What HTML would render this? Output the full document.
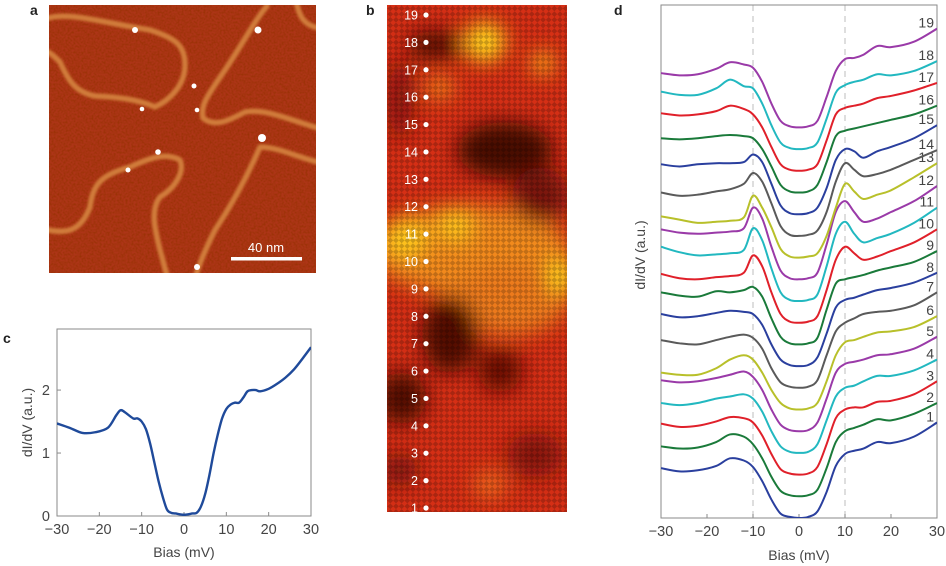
<!DOCTYPE html>
<html><head><meta charset="utf-8">
<style>
html,body{margin:0;padding:0;background:#fff;}
svg{display:block;font-family:"Liberation Sans",sans-serif;}
</style></head>
<body>
<svg id="fig" width="946" height="566" viewBox="0 0 946 566" xmlns="http://www.w3.org/2000/svg">
<defs>
  <filter id="noise" x="0" y="0" width="1" height="1">
    <feTurbulence type="fractalNoise" baseFrequency="0.5" numOctaves="2" seed="3" result="t"/>
    <feColorMatrix type="matrix" values="0 0 0 0 0.3  0 0 0 0 0.03  0 0 0 0 0  0 0 0 1.6 -0.55" />
  </filter>
  <filter id="blurA"><feGaussianBlur stdDeviation="1.2"/></filter>
  <filter id="blurB"><feGaussianBlur stdDeviation="10"/></filter>
  <clipPath id="clipA"><rect x="49" y="5" width="267" height="268"/></clipPath>
  <clipPath id="clipB"><rect x="387" y="5" width="180" height="507"/></clipPath>
  <clipPath id="clipC"><rect x="57" y="329" width="254" height="187"/></clipPath>
  <clipPath id="clipD"><rect x="661" y="5" width="276" height="513"/></clipPath>
  <pattern id="checker" width="8" height="8" patternUnits="userSpaceOnUse" patternTransform="rotate(45)">
    <rect width="4" height="4" fill="#000" opacity="0.2"/><rect x="4" y="4" width="4" height="4" fill="#000" opacity="0.2"/>
  </pattern>
</defs>

<text x="30" y="15" font-size="14" font-weight="bold" fill="#222">a</text>
<text x="366" y="15" font-size="14" font-weight="bold" fill="#222">b</text>
<text x="3" y="343" font-size="14" font-weight="bold" fill="#222">c</text>
<text x="614" y="15" font-size="14" font-weight="bold" fill="#222">d</text>

<g id="panelA" clip-path="url(#clipA)">
  <rect x="49" y="5" width="267" height="268" fill="#ad3517"/>
  <rect x="49" y="5" width="267" height="268" filter="url(#noise)"/>
  <g fill="none" stroke="#d5843f" stroke-width="5.5" stroke-linejoin="round" stroke-linecap="round" filter="url(#blurA)" opacity="0.9">
    <path d="M48,18 C70,12 100,22 150,30 C175,38 185,45 185,65 C185,85 170,100 155,107 C140,100 120,97 95,96 C75,92 68,80 60,62 C55,57 50,53 48,52"/>
    <path d="M267,6 C255,20 245,40 225,70 C208,95 200,105 203,118 C215,128 230,120 245,112 C265,108 290,120 318,128"/>
    <path d="M297,5 C300,18 305,25 318,28"/>
    <path d="M48,230 C65,233 80,233 90,207 C93,185 100,175 130,167 C150,158 165,152 180,160 C185,172 175,188 160,197 C150,210 155,230 160,250 C163,260 165,270 167,275"/>
    <path d="M260,147 C250,170 235,200 215,230 C205,250 200,262 196,275"/>
    <path d="M262,147 C280,148 300,158 318,162"/>
  </g>
  <g fill="#fff">
    <circle cx="135" cy="30" r="3"/>
    <circle cx="258" cy="30" r="3.5"/>
    <circle cx="194" cy="86" r="2.5"/>
    <circle cx="142" cy="109" r="2.3"/>
    <circle cx="197" cy="110" r="2.3"/>
    <circle cx="262" cy="138" r="4"/>
    <circle cx="158" cy="152" r="2.8"/>
    <circle cx="128" cy="170" r="2.5"/>
    <circle cx="197" cy="267" r="3"/>
  </g>
  <text x="266" y="252" font-size="13" fill="#fff" text-anchor="middle">40 nm</text>
  <rect x="231" y="257" width="71" height="3.5" fill="#fff"/>
</g>

<g id="panelB" clip-path="url(#clipB)">
  <rect x="387" y="5" width="180" height="507" fill="#d52f15"/>
  <g filter="url(#blurB)">
    <ellipse cx="470" cy="250" rx="100" ry="45" fill="#f28a1a"/>
    <ellipse cx="510" cy="300" rx="60" ry="35" fill="#ec7a1a"/>
    <ellipse cx="485" cy="42" rx="20" ry="20" fill="#ffd21a"/>
    <ellipse cx="543" cy="63" rx="12" ry="12" fill="#f9a51c"/>
    <ellipse cx="405" cy="237" rx="22" ry="20" fill="#ffc81a"/>
    <ellipse cx="455" cy="225" rx="16" ry="16" fill="#ffc81a"/>
    <ellipse cx="562" cy="276" rx="14" ry="18" fill="#ffd01a"/>
    <ellipse cx="440" cy="88" rx="14" ry="12" fill="#f0801a"/>
    <ellipse cx="435" cy="45" rx="28" ry="14" fill="#5a0a05"/>
    <ellipse cx="400" cy="100" rx="12" ry="40" fill="#8a1508"/>
    <ellipse cx="505" cy="150" rx="48" ry="28" fill="#4a0704"/>
    <ellipse cx="540" cy="195" rx="28" ry="28" fill="#7a1207"/>
    <ellipse cx="450" cy="335" rx="28" ry="38" fill="#520905"/>
    <ellipse cx="500" cy="370" rx="22" ry="22" fill="#6a0e06"/>
    <ellipse cx="402" cy="398" rx="24" ry="26" fill="#520905"/>
    <ellipse cx="400" cy="470" rx="18" ry="14" fill="#7a1207"/>
    <ellipse cx="535" cy="455" rx="28" ry="22" fill="#8a1508"/>
    <ellipse cx="490" cy="485" rx="16" ry="14" fill="#f06a1a"/>
  </g>
  <rect x="387" y="5" width="180" height="507" fill="url(#checker)"/>
  <g id="bLabels"></g>
</g>

<g id="panelC"></g>
<g id="panelD"></g>
</svg>

<script>
// ---------- Panel c data ----------
const cBias = [-30,-27,-24,-21,-18,-16,-15,-14,-12,-11,-10,-9,-8,-7,-6,-5,-4,-3,-2,0,2,3,4,5,6,7,8,9,10,11,12,13,14,15,16,17,18,20,22,24,26,28,30];
const cValues = [1.47,1.4,1.32,1.33,1.4,1.6,1.68,1.65,1.55,1.55,1.5,1.38,1.15,0.85,0.55,0.3,0.1,0.05,0.04,0.02,0.04,0.05,0.15,0.35,0.65,1.0,1.3,1.55,1.7,1.77,1.8,1.8,1.88,1.98,2.0,2.0,1.98,2.02,2.1,2.2,2.33,2.5,2.68];
const cXTicks = [-30,-20,-10,0,10,20,30];
const cYTicks = [0,1,2];

// ---------- Panel d data ----------
const dBias = [-30,-26,-22,-18,-15,-12,-10,-8,-6,-4,-2,0,2,4,6,8,10,12,14,17,20,25,30];
const s1 = [2.3,2.15,2.2,2.4,2.75,2.65,2.35,1.7,0.85,0.2,0.05,0,0.05,0.3,1.2,2.4,2.95,3.1,3.2,3.5,3.45,3.75,4.4];
const s2 = [2.3,2.2,2.25,2.5,2.85,2.75,2.4,1.75,0.9,0.25,0.05,0,0.05,0.3,1.3,2.5,3.0,3.15,3.3,3.55,3.5,3.8,4.3];
const s3 = [2.35,2.2,2.25,2.45,2.65,2.6,2.4,1.8,0.95,0.25,0.05,0,0.05,0.35,1.4,2.6,3.0,3.1,3.1,3.35,3.4,3.7,4.3];
const s4 = [2.3,2.2,2.3,2.5,2.6,2.7,2.5,1.9,1.0,0.3,0.05,0,0.05,0.4,1.5,2.6,3.0,3.1,3.3,3.55,3.55,3.8,4.3];
const s5 = [2.35,2.25,2.3,2.45,2.6,2.75,2.5,1.9,1.0,0.3,0.05,0,0.05,0.4,1.5,2.7,3.1,3.2,3.3,3.5,3.55,3.8,4.35];
const s6 = [1.7,1.6,1.6,1.9,2.3,2.5,2.3,1.7,0.9,0.3,0.05,0,0.05,0.3,1.3,2.5,3.1,3.2,3.35,3.55,3.6,3.8,4.3];
const s7 = [2.2,2.05,2.0,2.2,2.35,2.45,2.3,1.8,0.9,0.25,0.05,0,0.05,0.35,1.5,2.6,3.0,3.2,3.4,3.5,3.55,3.8,4.4];
const s8 = [2.4,2.25,2.3,2.45,2.55,2.5,2.4,1.9,1.0,0.3,0.05,0,0.05,0.4,1.5,2.7,3.05,3.15,3.3,3.5,3.6,3.85,4.3];
const s9 = [2.4,2.25,2.2,2.45,2.4,2.5,2.65,2.2,1.2,0.35,0.05,0,0.05,0.3,1.6,2.8,3.0,3.1,3.2,3.4,3.55,3.8,4.3];
const s10 = [2.25,2.05,2.0,2.1,2.15,2.3,3.1,2.6,1.4,0.4,0.05,0,0.05,0.3,1.5,2.9,3.5,3.2,2.9,3.05,3.3,3.7,4.3];
const s11 = [2.5,2.25,2.1,2.15,2.2,2.35,3.35,2.8,1.5,0.4,0.05,0,0.05,0.3,1.6,3.1,3.65,3.1,2.7,2.9,3.1,3.6,4.3];
const s12 = [2.3,2.15,2.1,2.15,2.2,2.35,3.3,2.8,1.5,0.4,0.05,0,0.05,0.3,1.6,3.1,3.6,3.1,2.65,2.8,3.1,3.6,4.3];
const s13 = [1.9,1.75,1.6,1.65,1.7,1.85,2.85,2.3,1.4,0.4,0.05,0,0.05,0.2,1.0,2.3,3.4,3.05,2.7,2.9,3.1,3.7,4.35];
const s14 = [2.0,1.85,1.9,2.05,2.15,2.4,2.9,2.5,1.5,0.45,0.05,0,0.05,0.25,1.1,2.5,3.35,3.05,2.75,2.85,3.05,3.5,3.95];
const s15 = [2.3,2.2,2.3,2.35,2.35,2.4,2.75,2.4,1.4,0.4,0.05,0,0.05,0.3,1.2,2.5,3.0,2.9,2.6,2.9,3.1,3.5,4.1];
const s16 = [2.5,2.45,2.5,2.6,2.65,2.6,2.5,2.0,1.2,0.35,0.05,0,0.05,0.35,1.4,2.6,2.85,2.95,3.05,3.2,3.35,3.6,4.0];
const s17 = [2.65,2.55,2.6,2.75,3.0,2.85,2.6,2.0,1.1,0.3,0.05,0,0.05,0.3,1.4,2.6,2.9,3.0,3.1,3.35,3.45,3.7,4.05];
const s18 = [2.65,2.5,2.5,2.8,3.2,2.9,2.8,2.1,1.1,0.3,0.05,0,0.05,0.3,1.4,2.6,2.95,3.1,3.2,3.45,3.4,3.6,4.05];
const s19 = [2.5,2.4,2.45,2.7,3.0,2.9,2.75,2.1,1.1,0.3,0.05,0,0.05,0.3,1.4,2.6,3.15,3.2,3.35,3.75,3.7,3.95,4.55];
const dSeries = [s1,s2,s3,s4,s5,s6,s7,s8,s9,s10,s11,s12,s13,s14,s15,s16,s17,s18,s19];
const dLabels = ["1","2","3","4","5","6","7","8","9","10","11","12","13","14","15","16","17","18","19"];
const dColors = ["#2a3f9e","#1a7a3a","#e0202a","#22b8c0","#9a3aa8","#b8c02a","#5a5a5a"];
const dOffsetStep = 1;
const dXTicks = [-30,-20,-10,0,10,20,30];
const dDashed = [-10,10];
const bPoints = ["1","2","3","4","5","6","7","8","9","10","11","12","13","14","15","16","17","18","19"];

const NS = "http://www.w3.org/2000/svg";
function mk(tag, attrs, parent){ const e=document.createElementNS(NS,tag); for(const k in attrs) e.setAttribute(k,attrs[k]); if(parent) parent.appendChild(e); return e; }
function smoothPath(pts){
  let d = "M"+pts[0][0].toFixed(2)+","+pts[0][1].toFixed(2);
  for(let i=0;i<pts.length-1;i++){
    const p0=pts[Math.max(0,i-1)],p1=pts[i],p2=pts[i+1],p3=pts[Math.min(pts.length-1,i+2)];
    const c1x=p1[0]+(p2[0]-p0[0])/6,c1y=p1[1]+(p2[1]-p0[1])/6;
    const c2x=p2[0]-(p3[0]-p1[0])/6,c2y=p2[1]-(p3[1]-p1[1])/6;
    d+=" C"+c1x.toFixed(2)+","+c1y.toFixed(2)+" "+c2x.toFixed(2)+","+c2y.toFixed(2)+" "+p2[0].toFixed(2)+","+p2[1].toFixed(2);
  }
  return d;
}

(function(){
  const g=document.getElementById('bLabels');
  const y1=508, y19=15;
  bPoints.forEach((lab,i)=>{
    const y = y1 + (y19-y1)*i/(bPoints.length-1);
    const t=mk('text',{x:418,y:y+4.5,'font-size':12.5,fill:'#fff','text-anchor':'end'},g);
    
    
    t.textContent=lab;
    const c=mk('circle',{cx:426,cy:y,r:2.6,fill:'#fff'},g);
    
    
  });
})();

(function(){
  const g=document.getElementById('panelC');
  const L=57,R=311,T=329,B=516, ymax=2.97;
  const x=v=>L+(v+30)/60*(R-L), y=v=>B-v/ymax*(B-T);
  const fr=mk('rect',{x:L,y:T,width:R-L,height:B-T,fill:'none',stroke:'#8a8a8a','stroke-width':1},g);
   
  cXTicks.forEach(v=>{
    const tk=mk('line',{x1:x(v),x2:x(v),y1:B,y2:B-4,stroke:'#8a8a8a'},g);
     
    const t=mk('text',{x:x(v),y:B+18,'font-size':14.5,fill:'#444','text-anchor':'middle'},g);
     
    t.textContent=(v<0?'\u2212'+(-v):String(v));
  });
  cYTicks.forEach(v=>{
    const tk=mk('line',{x1:L,x2:L+4,y1:y(v),y2:y(v),stroke:'#8a8a8a'},g);
     
    const t=mk('text',{x:L-7,y:y(v)+5,'font-size':14.5,fill:'#444','text-anchor':'end'},g);
     
    t.textContent=String(v);
  });
  const xt=mk('text',{x:(L+R)/2,y:557,'font-size':14,fill:'#444','text-anchor':'middle'},g);
   
  xt.textContent='Bias (mV)';
  const yt=mk('text',{x:0,y:0,'font-size':14,fill:'#444','text-anchor':'middle',transform:'translate(32,'+((T+B)/2)+') rotate(-90)'},g);
   
  yt.textContent='dI/dV (a.u.)';
  const pts=cBias.map((b,i)=>[x(b),y(cValues[i])]);
  const p=mk('path',{d:smoothPath(pts),fill:'none',stroke:'#1f4a9a','stroke-width':2.4,'stroke-linejoin':'round','clip-path':'url(#clipC)'},g);
   
})();

(function(){
  const g=document.getElementById('panelD');
  const L=661,R=937,T=5,B=518, unit=21.7;
  const x=v=>L+(v+30)/60*(R-L), y=v=>B-v*unit;
  dDashed.forEach(v=>{
    const l=mk('line',{x1:x(v),x2:x(v),y1:T,y2:B,stroke:'#c8c8c8','stroke-width':1.2,'stroke-dasharray':'6,5'},g);
     
  });
  const fr=mk('rect',{x:L,y:T,width:R-L,height:B-T,fill:'none',stroke:'#8a8a8a','stroke-width':1},g);
   
  dXTicks.forEach(v=>{
    const tk=mk('line',{x1:x(v),x2:x(v),y1:B,y2:B-4,stroke:'#8a8a8a'},g);
     
    const t=mk('text',{x:x(v),y:B+18,'font-size':14.5,fill:'#444','text-anchor':'middle'},g);
     
    t.textContent=(v<0?'\u2212'+(-v):String(v));
  });
  const xt=mk('text',{x:(L+R)/2,y:560,'font-size':14,fill:'#444','text-anchor':'middle'},g);
   
  xt.textContent='Bias (mV)';
  const yt=mk('text',{x:0,y:0,'font-size':14,fill:'#444','text-anchor':'middle',transform:'translate(645,255) rotate(-90)'},g);
   
  yt.textContent='dI/dV (a.u.)';
  dSeries.forEach((s,i)=>{
    const off=i*dOffsetStep;
    const pts=dBias.map((b,j)=>[x(b),y(s[j]+off)]);
    const p=mk('path',{d:smoothPath(pts),fill:'none',stroke:dColors[i%dColors.length],'stroke-width':2,'stroke-linejoin':'round','clip-path':'url(#clipD)'},g);
    
    
    const endY=y(s[s.length-1]+off);
    const t=mk('text',{x:934,y:endY-1,'font-size':14,fill:'#444','text-anchor':'end'},g);
    
    
    t.textContent=dLabels[i];
  });
})();
</script>
</body></html>
